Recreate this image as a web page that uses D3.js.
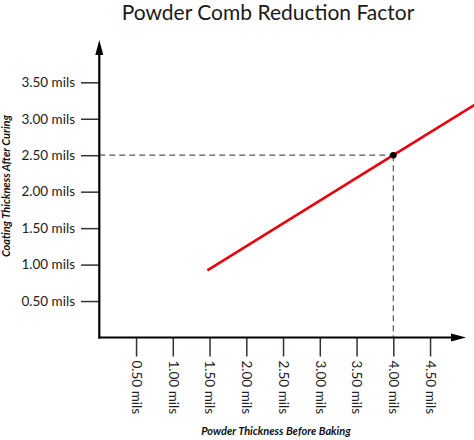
<!DOCTYPE html>
<html>
<head>
<meta charset="utf-8">
<script src="https://cdn.jsdelivr.net/npm/d3@7"></script>
<style>
  body { margin: 0; background: #fff; }
  text { font-family: "Lato", "Open Sans", sans-serif; }
</style>
</head>
<body>
<div id="chart"></div>
<script>
// 값은 그림에서 읽어온 것
const xTicks = [0.5, 1.0, 1.5, 2.0, 2.5, 3.0, 3.5, 4.0, 4.5];
const yTicks = [0.5, 1.0, 1.5, 2.0, 2.5, 3.0, 3.5];
const lineX = [1.47, 4.0, 5.2];
const lineY = [0.92, 2.5, 3.25];
const markX = 4.0;
const markY = 2.5;

const width = 474, height = 440;

const svg = d3.select("#chart")
              .append("svg")
              .attr("width", width)
              .attr("height", height);

const x = d3.scaleLinear().domain([0, 5]).range([99.3, 466.8]);
const y = d3.scaleLinear().domain([0, 3.5]).range([337.5, 82.3]);
const fmt = d => d.toFixed(2) + " mils";

// title
svg.append("text")
   .attr("x", 268).attr("y", 20)
   .attr("text-anchor", "middle")
   .style("font-size", "21px")
   .style("fill", "#1a1a1a")
   .text("Powder Comb Reduction Factor");

// y axis ticks
const yAxis = svg.append("g")
                 .attr("transform", "translate(99,0)")
                 .call(d3.axisLeft(y).tickValues(yTicks).tickSize(18).tickPadding(6).tickFormat(fmt));
yAxis.select(".domain").remove();
yAxis.selectAll("line").attr("stroke", "#333").attr("stroke-width", 1.5);
yAxis.selectAll("text").style("font-size", "13.5px").style("font-family", "Lato, 'Open Sans', sans-serif").attr("fill", "#222");

// x axis ticks
const xAxis = svg.append("g")
                 .attr("transform", "translate(0,337.5)")
                 .call(d3.axisBottom(x).tickValues(xTicks).tickSize(19).tickFormat(fmt));
xAxis.select(".domain").remove();
xAxis.selectAll("line").attr("stroke", "#333").attr("stroke-width", 1.5);
xAxis.selectAll("text")
     .attr("transform", "rotate(90)")
     .attr("x", 23).attr("y", 0).attr("dy", "0.35em")
     .attr("text-anchor", "start")
     .style("font-size", "13.5px")
     .style("font-family", "Lato, 'Open Sans', sans-serif")
     .attr("fill", "#222");

// dashed guides
const guideColor = "#555";
svg.append("line")
   .attr("x1", x(0)).attr("x2", x(markX))
   .attr("y1", y(markY)).attr("y2", y(markY))
   .attr("stroke", guideColor).attr("stroke-width", 1.2)
   .attr("stroke-dasharray", "6,4");
svg.append("line")
   .attr("x1", x(markX)).attr("x2", x(markX))
   .attr("y1", y(markY)).attr("y2", y(0))
   .attr("stroke", guideColor).attr("stroke-width", 1.2)
   .attr("stroke-dasharray", "6,4");

// main axes with arrows
svg.append("line")
   .attr("x1", x(0)).attr("x2", x(0))
   .attr("y1", y(0) + 1).attr("y2", 52)
   .attr("stroke", "#000").attr("stroke-width", 2.2);
svg.append("path")
   .attr("d", `M${x(0)},40 L${x(0) - 4},55 L${x(0) + 4},55 Z`)
   .attr("fill", "#000");
svg.append("line")
   .attr("x1", x(0) - 1).attr("x2", 454)
   .attr("y1", y(0)).attr("y2", y(0))
   .attr("stroke", "#000").attr("stroke-width", 2.2);
svg.append("path")
   .attr("d", `M466,${y(0)} L451,${y(0) - 4} L451,${y(0) + 4} Z`)
   .attr("fill", "#000");

// red line
const pts = lineX.map((d, i) => [d, lineY[i]]);
svg.append("path")
   .datum(pts)
   .attr("d", d3.line().x(d => x(d[0])).y(d => y(d[1])))
   .attr("fill", "none")
   .attr("stroke", "#e8000b")
   .attr("stroke-width", 2.6);

svg.append("circle")
   .attr("cx", x(markX)).attr("cy", y(markY))
   .attr("r", 3.3)
   .attr("fill", "#000");

// axis titles
svg.append("text")
   .attr("x", 276).attr("y", 435)
   .attr("text-anchor", "middle")
   .style("font-size", "11px")
   .style("font-style", "italic")
   .style("font-weight", "bold")
   .style("fill", "#111")
   .text("Powder Thickness Before Baking");

svg.append("text")
   .attr("transform", "translate(10,186) rotate(-90)")
   .attr("text-anchor", "middle")
   .style("font-size", "11px")
   .style("font-style", "italic")
   .style("font-weight", "bold")
   .style("fill", "#111")
   .text("Coating Thickness After Curing");
</script>
</body>
</html>
